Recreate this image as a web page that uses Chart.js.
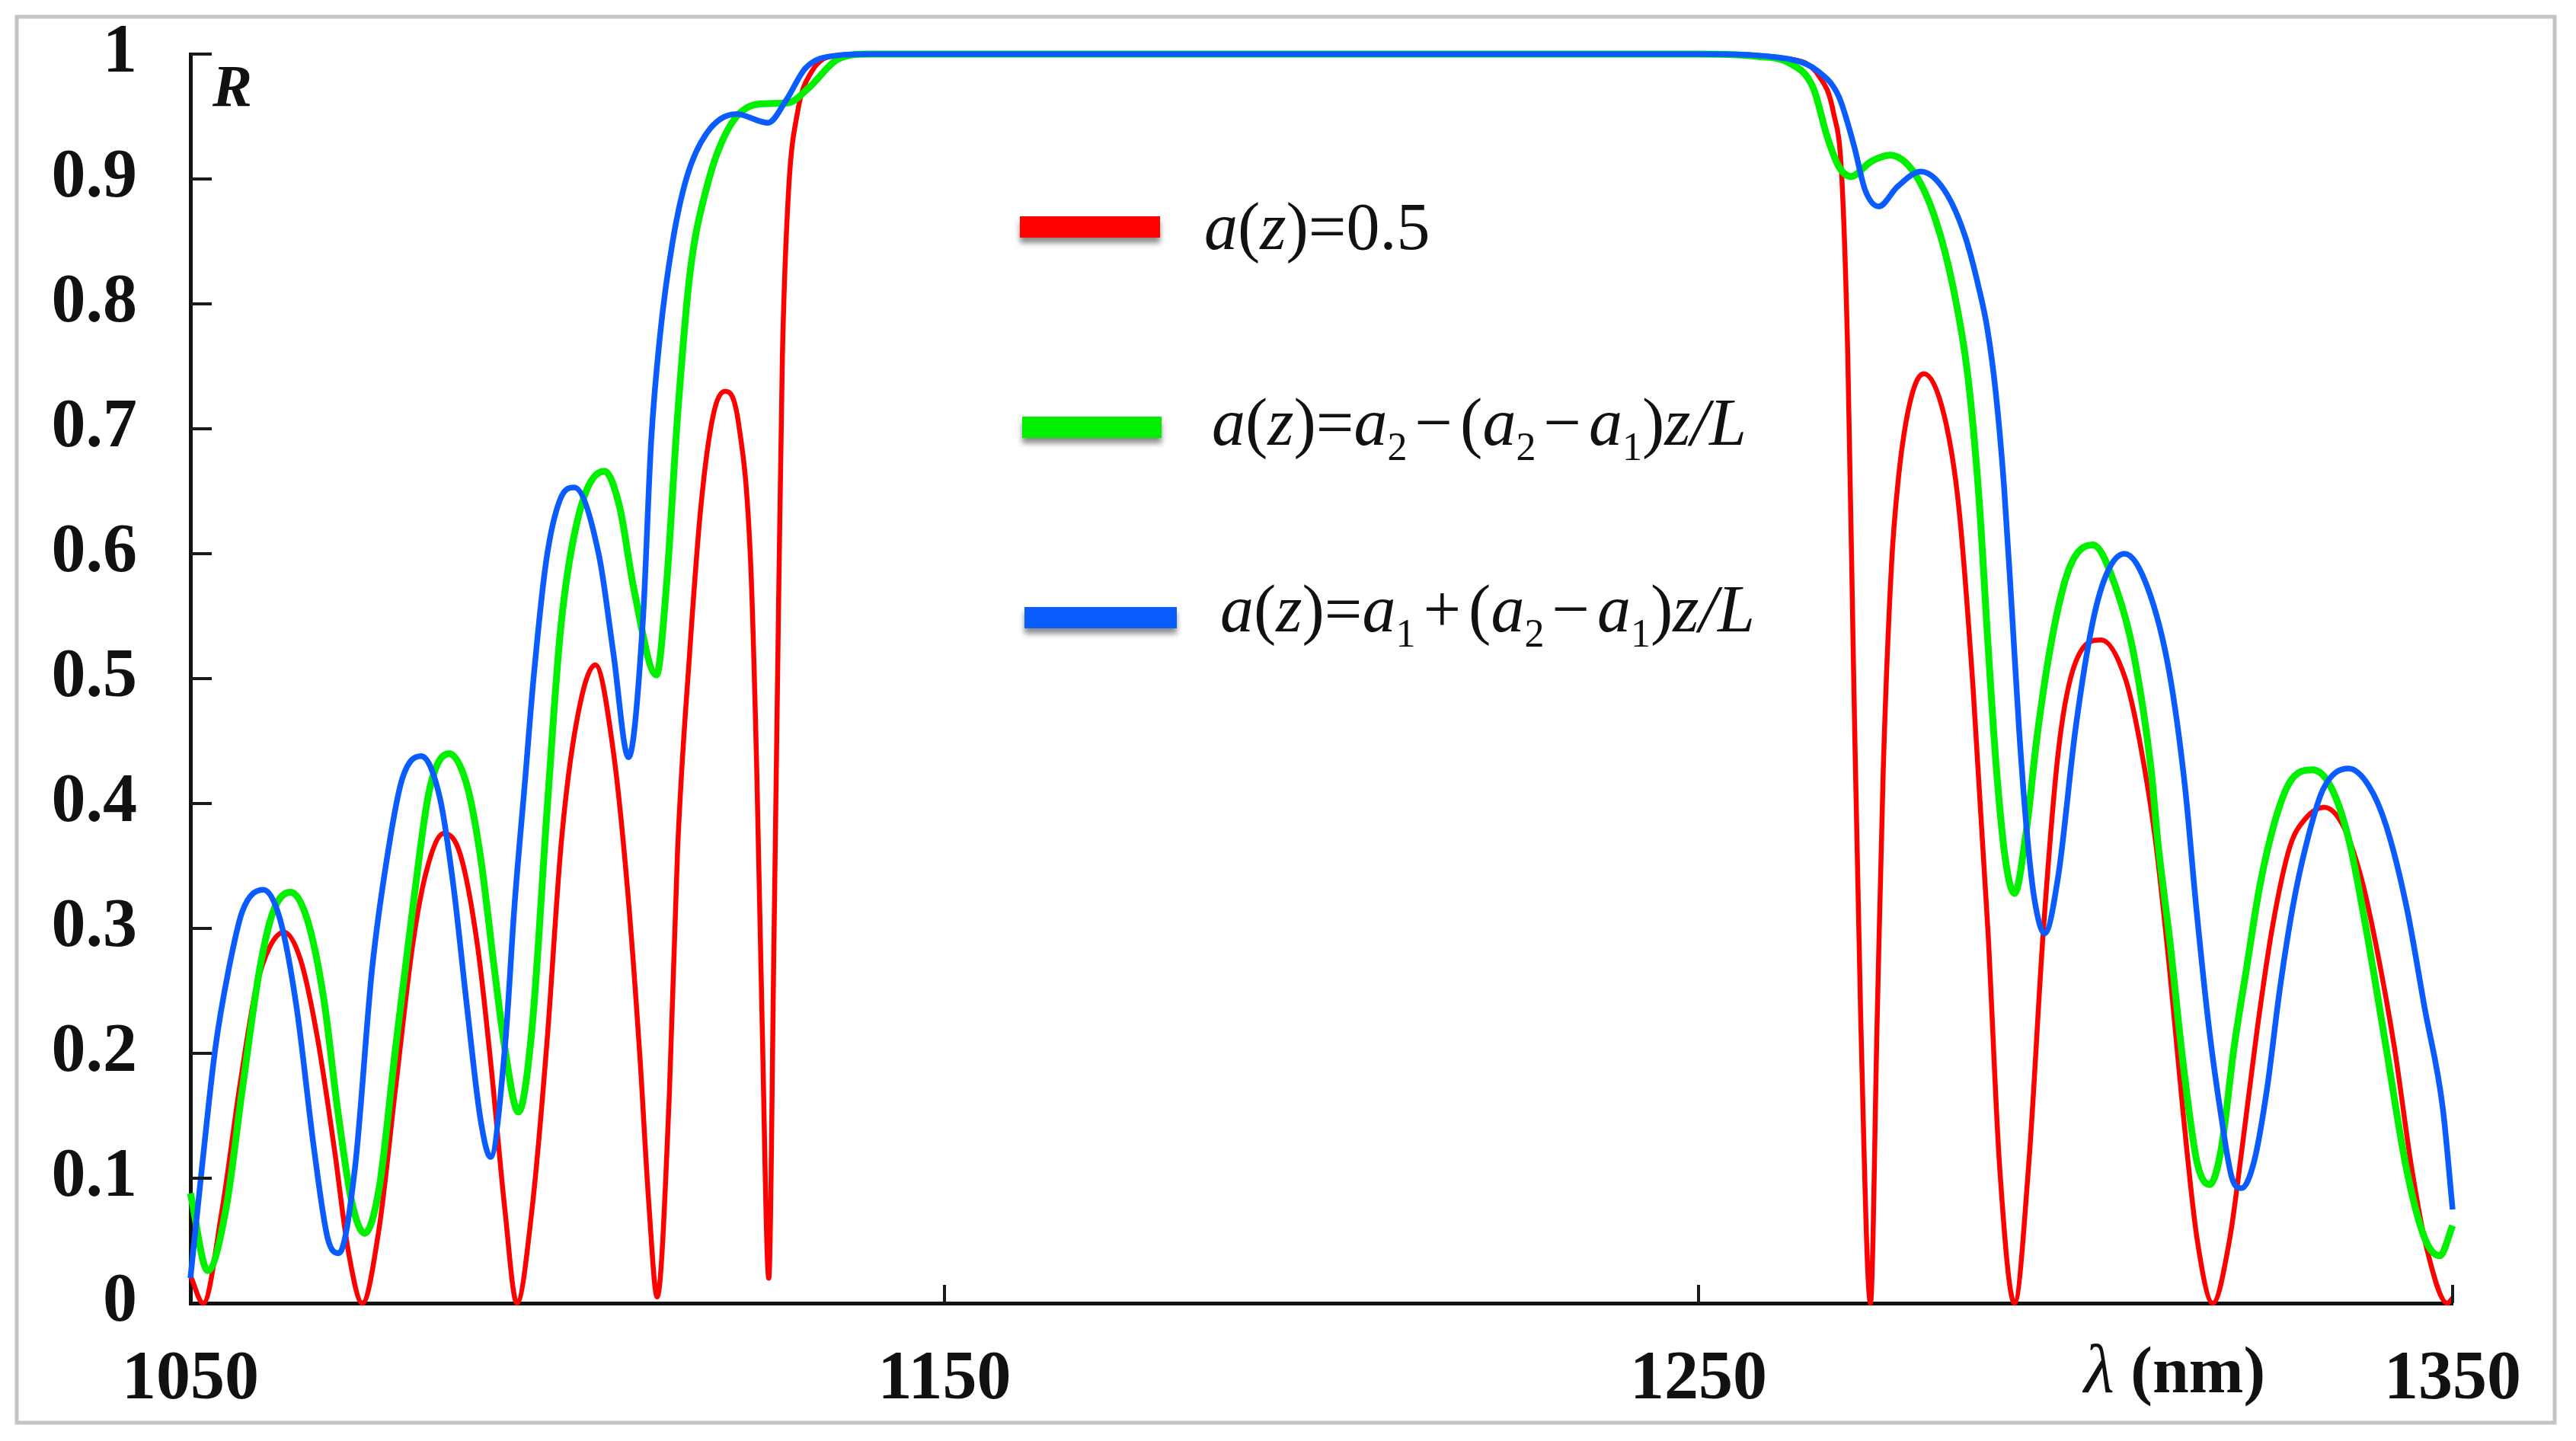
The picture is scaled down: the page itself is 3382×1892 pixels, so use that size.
<!DOCTYPE html>
<html>
<head>
<meta charset="utf-8">
<script src="https://cdn.jsdelivr.net/npm/chart.js@4.4.1/dist/chart.umd.min.js"></script>
<style>
html,body{margin:0;padding:0;background:#fff;overflow:hidden}
canvas{display:block}
</style>
</head>
<body>
<canvas id="c" width="3382" height="1892"></canvas>
<script>
const seriesLabels = ['a(z)=0.5', 'a(z)=a2−(a2−a1)z/L', 'a(z)=a1+(a2−a1)z/L'];
const xTickLabels = ['1050', '1150', '1250', '1350'];
const yTickLabels = ['0', '0.1', '0.2', '0.3', '0.4', '0.5', '0.6', '0.7', '0.8', '0.9', '1'];

const redLambda = [1050,1051.7,1054.2,1056.5,1058.7,1060.5,1062.4,1064.6,1066.8,1069.1,1070.9,1072.8,1075.0,1077.2,1079.5,1081.3,1083.6,1085.8,1088.1,1089.9,1091.7,1093.3,1095.3,1097.3,1099.2,1101.2,1103.7,1106.1,1108.0,1109.6,1110.8,1111.9,1113.5,1114.6,1116.2,1117.7,1119.3,1120.9,1122.7,1124.3,1125.1,1125.8,1126.7,1127.4,1128.0,1128.5,1129.3,1130.5,1132.4,1135.9,1140,1250,1262,1265.9,1267.9,1269.0,1269.8,1270.6,1271.5,1272.8,1273.7,1274.5,1275.6,1276.5,1277.5,1278.7,1279.9,1282.6,1284.5,1286.4,1288.4,1289.9,1291.9,1293.8,1295.7,1297.7,1299.6,1303.4,1306.6,1308.5,1310.6,1312.5,1314.3,1316.1,1318.2,1320.4,1322.1,1324.1,1326.1,1328.4,1330.5,1333.0,1335.5,1337.9,1339.9,1342.3,1344.6,1346.6,1349.3,1350];
const redR = [0.022,0.0,0.075,0.172,0.252,0.285,0.297,0.275,0.214,0.123,0.043,0.0,0.059,0.172,0.288,0.346,0.376,0.359,0.285,0.188,0.075,0.0,0.075,0.21,0.37,0.465,0.511,0.441,0.329,0.198,0.079,0.005,0.165,0.362,0.52,0.638,0.710,0.730,0.704,0.592,0.428,0.230,0.02,0.296,0.559,0.756,0.888,0.953,0.986,0.999,1,1,0.996,0.983,0.953,0.901,0.756,0.493,0.230,0.0,0.230,0.428,0.592,0.66,0.705,0.735,0.744,0.710,0.638,0.493,0.296,0.112,0.0,0.112,0.296,0.441,0.506,0.531,0.500,0.45,0.37,0.265,0.15,0.052,0.0,0.05,0.125,0.220,0.301,0.365,0.388,0.397,0.382,0.340,0.285,0.204,0.107,0.043,0.0,0.004];

const greenLambda = [1050,1052.3,1054.7,1056.9,1059.2,1061.0,1063.3,1065.5,1067.7,1069.5,1071.4,1073.1,1075.0,1077.2,1079.5,1081.7,1084.3,1086.7,1088.5,1090.3,1091.7,1093.5,1095.3,1097.3,1099.1,1101.5,1104.9,1106.9,1108.8,1111.8,1113.1,1114.6,1116.2,1118.5,1121.6,1125.5,1129.3,1132.0,1135.9,1140,1250,1258,1262,1265.2,1267.1,1268.6,1270.2,1272.9,1275.4,1278.7,1281.4,1283.7,1285.7,1287.2,1288.4,1289.5,1290.7,1291.9,1293.4,1294.9,1296.9,1299.2,1302.3,1305.4,1307.7,1310.0,1310.9,1312.5,1314.3,1316.1,1317.8,1319.3,1321.0,1322.7,1324.4,1326.4,1328.4,1331.4,1333.8,1336.2,1338.5,1341.2,1343.9,1346.3,1348.3,1350];
const greenR = [0.088,0.026,0.075,0.172,0.268,0.314,0.329,0.307,0.243,0.156,0.081,0.056,0.091,0.204,0.317,0.411,0.440,0.414,0.356,0.268,0.204,0.153,0.22,0.395,0.54,0.631,0.666,0.638,0.572,0.503,0.572,0.710,0.822,0.894,0.943,0.960,0.961,0.973,0.996,1,1,0.998,0.993,0.973,0.933,0.910,0.902,0.914,0.919,0.904,0.868,0.815,0.743,0.644,0.526,0.428,0.355,0.328,0.375,0.454,0.533,0.589,0.607,0.572,0.520,0.428,0.37,0.29,0.19,0.113,0.095,0.123,0.204,0.269,0.333,0.385,0.417,0.427,0.414,0.372,0.301,0.204,0.107,0.052,0.038,0.062];

const blueLambda = [1050,1051.5,1053.3,1055.1,1056.9,1059.7,1061.9,1064.1,1066.4,1068.2,1069.7,1071.8,1074.1,1076.3,1078.1,1080.6,1083.1,1084.9,1086.7,1088.5,1089.8,1091.7,1093.0,1094.4,1095.5,1097.2,1099.0,1100.9,1104.2,1106.1,1108.1,1110.0,1111.1,1112.3,1113.9,1115.8,1118.5,1122.4,1126.6,1129.0,1131.6,1135.9,1140,1250,1262,1265.9,1268.6,1270.6,1272.1,1273.9,1276.4,1279.5,1282.6,1285.3,1287.2,1288.3,1289.4,1290.5,1291.5,1292.5,1293.5,1294.5,1295.9,1297.7,1300.0,1302.3,1304.2,1306.5,1309.6,1312.4,1314.5,1316.0,1317.7,1319.3,1320.7,1322.0,1323.7,1325.4,1327.1,1328.8,1330.5,1332.8,1336.2,1338.9,1341.2,1343.9,1346.3,1348.7,1350];
const blueR = [0.02,0.107,0.204,0.268,0.314,0.331,0.307,0.236,0.123,0.052,0.040,0.107,0.268,0.365,0.420,0.438,0.404,0.333,0.236,0.146,0.117,0.204,0.32,0.42,0.50,0.595,0.643,0.653,0.598,0.520,0.437,0.546,0.690,0.776,0.848,0.901,0.937,0.952,0.945,0.963,0.989,0.999,1,1,0.996,0.986,0.966,0.927,0.891,0.878,0.894,0.906,0.891,0.855,0.812,0.78,0.73,0.655,0.56,0.46,0.38,0.325,0.296,0.342,0.460,0.546,0.585,0.600,0.572,0.506,0.414,0.317,0.22,0.15,0.101,0.092,0.114,0.172,0.252,0.317,0.365,0.411,0.428,0.414,0.382,0.317,0.236,0.156,0.075];

// legend text pieces (i = italic, n = upright, s = subscript, o = operator)
const legendRich = [
  [['a','i'],['(','n'],['z','i'],[')=0.5','n']],
  [['a','i'],['(','n'],['z','i'],[')=','n'],['a','i'],['2','s'],['−','o'],['(','n'],['a','i'],['2','s'],['−','o'],['a','i'],['1','s'],[')','n'],['z/L','i']],
  [['a','i'],['(','n'],['z','i'],[')=','n'],['a','i'],['1','s'],['+','o'],['(','n'],['a','i'],['2','s'],['−','o'],['a','i'],['1','s'],[')','n'],['z/L','i']]
];

const colors = ['#ff0000', '#00f000', '#0a5cff'];
const widths = [6.5, 9, 7.5];
const legendPos = [
  {x0:1339, x1:1523, y:298, tx:1581, ty:327},
  {x0:1342, x1:1525, y:561, tx:1591, ty:584},
  {x0:1345, x1:1545, y:811, tx:1602, ty:829}
];
const SERIF = '"Liberation Serif", "Times New Roman", serif';

function pts(xs, ys){ return xs.map((x,i)=>({x:x, y:ys[i]})); }

const decor = {
  id: 'decor',
  beforeDraw(chart){
    const ctx = chart.ctx;
    ctx.save();
    ctx.fillStyle = '#ffffff';
    ctx.fillRect(0, 0, chart.width, chart.height);
    ctx.strokeStyle = '#c4c4c4';
    ctx.lineWidth = 5;
    ctx.strokeRect(22, 22, 3332, 1846);
    ctx.restore();
  },
  afterDraw(chart){
    const ctx = chart.ctx;
    const xs = chart.scales.x, ys = chart.scales.y;
    const left = xs.getPixelForValue(1050), bottom = ys.getPixelForValue(0);
    ctx.save();
    ctx.strokeStyle = '#1a1a1a';
    ctx.lineWidth = 4;
    yTickLabels.forEach((t,i)=>{
      if (i === 0) return;
      const y = ys.getPixelForValue(parseFloat(t));
      ctx.beginPath(); ctx.moveTo(left, y); ctx.lineTo(left + 28, y); ctx.stroke();
    });
    xTickLabels.forEach((t,i)=>{
      if (i === 0) return;
      const x = xs.getPixelForValue(parseFloat(t));
      ctx.beginPath(); ctx.moveTo(x, bottom); ctx.lineTo(x, bottom - 24); ctx.stroke();
    });
    ctx.fillStyle = '#111';
    ctx.textBaseline = 'alphabetic';
    ctx.textAlign = 'left';
    ctx.font = 'italic bold 78px ' + SERIF;
    ctx.fillText('R', 279, 139);
    ctx.font = 'italic 92px ' + SERIF;
    ctx.fillText('λ', 2736, 1828);
    const lw = ctx.measureText('λ').width;
    ctx.font = 'bold 86px ' + SERIF;
    ctx.fillText(' (nm)', 2736 + lw, 1828);
    chart.data.datasets.forEach((ds, i)=>{
      const p = legendPos[i];
      ctx.save();
      ctx.shadowColor = 'rgba(0,0,0,0.45)';
      ctx.shadowBlur = 7;
      ctx.shadowOffsetY = 7;
      ctx.fillStyle = ds.borderColor;
      ctx.fillRect(p.x0, p.y - 14, p.x1 - p.x0, 28);
      ctx.restore();
      let x = p.tx;
      ctx.fillStyle = '#111';
      legendRich[i].forEach(([txt, kind])=>{
        if (kind === 's') {
          ctx.font = '52px ' + SERIF;
          ctx.fillText(txt, x, p.ty + 20);
          x += ctx.measureText(txt).width;
        } else if (kind === 'i') {
          ctx.font = 'italic 88px ' + SERIF;
          ctx.fillText(txt, x, p.ty);
          x += ctx.measureText(txt).width;
        } else if (kind === 'o') {
          ctx.font = '88px ' + SERIF;
          x += 10;
          ctx.fillText(txt, x, p.ty);
          x += ctx.measureText(txt).width + 10;
        } else {
          ctx.font = '88px ' + SERIF;
          ctx.fillText(txt, x, p.ty);
          x += ctx.measureText(txt).width;
        }
      });
    });
    ctx.restore();
  }
};

const datasets = [
  {label: seriesLabels[0], data: pts(redLambda, redR), order: 2},
  {label: seriesLabels[1], data: pts(greenLambda, greenR), order: 1},
  {label: seriesLabels[2], data: pts(blueLambda, blueR), order: 0}
].map((d,i)=>Object.assign(d, {
  borderColor: colors[i], backgroundColor: colors[i], borderWidth: widths[i],
  pointRadius: 0, fill: false, cubicInterpolationMode: 'monotone', clip: false
}));

new Chart(document.getElementById('c'), {
  type: 'line',
  data: {datasets: datasets},
  options: {
    responsive: false,
    devicePixelRatio: 1,
    animation: false,
    layout: {padding: {top: 71, right: 162, left: 0, bottom: 0}},
    plugins: {legend: {display: false}, tooltip: {enabled: false}},
    scales: {
      x: {
        type: 'linear', min: 1050, max: 1350,
        grid: {display: true, drawOnChartArea: false, drawTicks: false},
        border: {display: true, color: '#111', width: 5},
        ticks: {
          stepSize: 100, autoSkip: false, maxRotation: 0, padding: 48,
          color: '#111', font: {family: SERIF, size: 90, weight: 'bold'},
          callback: (v)=>{ const k = Math.round((v - 1050) / 100); return xTickLabels[k] !== undefined ? xTickLabels[k] : ''; }
        },
        afterFit: (s)=>{ s.height = 181; s.paddingLeft = 0; s.paddingRight = 0; }
      },
      y: {
        type: 'linear', min: 0, max: 1,
        grid: {display: true, drawOnChartArea: false, drawTicks: false},
        border: {display: true, color: '#111', width: 5},
        ticks: {
          stepSize: 0.1, autoSkip: false, padding: 70,
          color: '#111', font: {family: SERIF, size: 90, weight: 'bold'},
          callback: (v)=>{ const k = Math.round(v * 10); return yTickLabels[k] !== undefined ? yTickLabels[k] : ''; }
        },
        afterFit: (s)=>{ s.width = 250; s.paddingTop = 0; s.paddingBottom = 0; }
      }
    }
  },
  plugins: [decor]
});
</script>
</body>
</html>
